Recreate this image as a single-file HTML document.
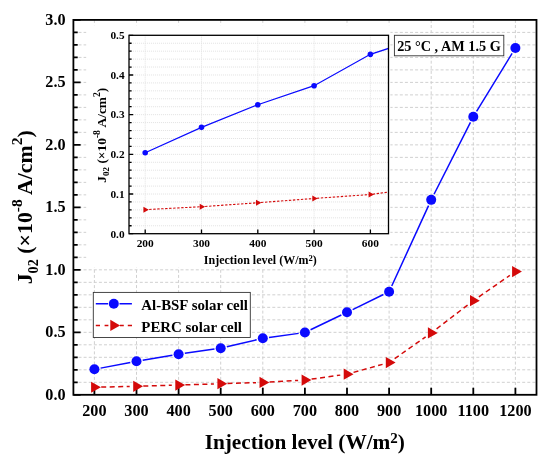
<!DOCTYPE html>
<html lang="en"><head><meta charset="utf-8"><title>J02 vs injection level</title>
<style>html,body{margin:0;padding:0;background:#fff}svg{display:block}</style></head>
<body>
<svg width="550" height="466" viewBox="0 0 550 466" font-family="'Liberation Serif', serif" font-weight="bold" fill="#000">
<rect width="550" height="466" fill="#fff"/>
<g stroke="#d0d0d0" stroke-width="1" stroke-dasharray="3 2.1" fill="none">
<line x1="94.4" y1="19.9" x2="94.4" y2="394.8"/>
<line x1="136.5" y1="19.9" x2="136.5" y2="394.8"/>
<line x1="178.6" y1="19.9" x2="178.6" y2="394.8"/>
<line x1="220.7" y1="19.9" x2="220.7" y2="394.8"/>
<line x1="262.8" y1="19.9" x2="262.8" y2="394.8"/>
<line x1="304.9" y1="19.9" x2="304.9" y2="394.8"/>
<line x1="347" y1="19.9" x2="347" y2="394.8"/>
<line x1="389.1" y1="19.9" x2="389.1" y2="394.8"/>
<line x1="431.2" y1="19.9" x2="431.2" y2="394.8"/>
<line x1="473.3" y1="19.9" x2="473.3" y2="394.8"/>
<line x1="515.4" y1="19.9" x2="515.4" y2="394.8"/>
<line x1="73.4" y1="382.3" x2="536.5" y2="382.3"/>
<line x1="73.4" y1="369.81" x2="536.5" y2="369.81"/>
<line x1="73.4" y1="357.31" x2="536.5" y2="357.31"/>
<line x1="73.4" y1="344.81" x2="536.5" y2="344.81"/>
<line x1="73.4" y1="332.32" x2="536.5" y2="332.32"/>
<line x1="73.4" y1="319.82" x2="536.5" y2="319.82"/>
<line x1="73.4" y1="307.32" x2="536.5" y2="307.32"/>
<line x1="73.4" y1="294.83" x2="536.5" y2="294.83"/>
<line x1="73.4" y1="282.33" x2="536.5" y2="282.33"/>
<line x1="73.4" y1="269.83" x2="536.5" y2="269.83"/>
<line x1="73.4" y1="257.34" x2="536.5" y2="257.34"/>
<line x1="73.4" y1="244.84" x2="536.5" y2="244.84"/>
<line x1="73.4" y1="232.34" x2="536.5" y2="232.34"/>
<line x1="73.4" y1="219.85" x2="536.5" y2="219.85"/>
<line x1="73.4" y1="207.35" x2="536.5" y2="207.35"/>
<line x1="73.4" y1="194.85" x2="536.5" y2="194.85"/>
<line x1="73.4" y1="182.36" x2="536.5" y2="182.36"/>
<line x1="73.4" y1="169.86" x2="536.5" y2="169.86"/>
<line x1="73.4" y1="157.36" x2="536.5" y2="157.36"/>
<line x1="73.4" y1="144.87" x2="536.5" y2="144.87"/>
<line x1="73.4" y1="132.37" x2="536.5" y2="132.37"/>
<line x1="73.4" y1="119.87" x2="536.5" y2="119.87"/>
<line x1="73.4" y1="107.38" x2="536.5" y2="107.38"/>
<line x1="73.4" y1="94.88" x2="536.5" y2="94.88"/>
<line x1="73.4" y1="82.38" x2="536.5" y2="82.38"/>
<line x1="73.4" y1="69.89" x2="536.5" y2="69.89"/>
<line x1="73.4" y1="57.39" x2="536.5" y2="57.39"/>
<line x1="73.4" y1="44.89" x2="536.5" y2="44.89"/>
<line x1="73.4" y1="32.4" x2="536.5" y2="32.4"/>
</g>
<g stroke="#000" stroke-width="1.8" fill="none">
<rect x="73.4" y="19.9" width="463.1" height="374.9"/>
<path d="M94.4 394.8v-7M136.5 394.8v-7M178.6 394.8v-7M220.7 394.8v-7M262.8 394.8v-7M304.9 394.8v-7M347 394.8v-7M389.1 394.8v-7M431.2 394.8v-7M473.3 394.8v-7M515.4 394.8v-7M73.4 394.8h7.2M73.4 382.3h4.3M73.4 369.81h4.3M73.4 357.31h4.3M73.4 344.81h4.3M73.4 332.32h7.2M73.4 319.82h4.3M73.4 307.32h4.3M73.4 294.83h4.3M73.4 282.33h4.3M73.4 269.83h7.2M73.4 257.34h4.3M73.4 244.84h4.3M73.4 232.34h4.3M73.4 219.85h4.3M73.4 207.35h7.2M73.4 194.85h4.3M73.4 182.36h4.3M73.4 169.86h4.3M73.4 157.36h4.3M73.4 144.87h7.2M73.4 132.37h4.3M73.4 119.87h4.3M73.4 107.38h4.3M73.4 94.88h4.3M73.4 82.38h7.2M73.4 69.89h4.3M73.4 57.39h4.3M73.4 44.89h4.3M73.4 32.4h4.3M73.4 19.9h7.2"/>
</g>
<path d="M100.59 368.13L130.31 362.48M142.71 360.26L172.39 355.24M184.84 353.3L214.46 349.08M226.83 346.75L256.67 339.75M269.04 337.45L298.66 333.37M310.58 329.78L341.32 315.05M352.66 309.55L383.44 294.47M391.73 285.98L428.57 205.58M434.05 194.23L470.45 122.37M476.59 111.38L512.11 53.39" stroke="#0a0aff" stroke-width="1.5" fill="none"/>
<path d="M101.2 387.08L129.7 386.45M143.3 386.1L171.8 385.25M185.4 384.83L213.9 383.92M227.5 383.5L256 382.66M269.59 382.07L298.11 380.44M311.63 379.11L340.27 375.12M353.55 372.37L382.55 364.37M394.66 358.65L425.64 336.85M436.6 328.81L467.9 304.83M478.89 296.83L509.81 275.45" stroke="#d40a0a" stroke-width="1.5" stroke-dasharray="5 3.5" fill="none"/>
<g fill="#0a0aff">
<circle cx="94.4" cy="369.31" r="5"/>
<circle cx="136.5" cy="361.31" r="5"/>
<circle cx="178.6" cy="354.19" r="5"/>
<circle cx="220.7" cy="348.19" r="5"/>
<circle cx="262.8" cy="338.32" r="5"/>
<circle cx="304.9" cy="332.5" r="5"/>
<circle cx="347" cy="312.32" r="5"/>
<circle cx="389.1" cy="291.7" r="5"/>
<circle cx="431.2" cy="199.85" r="5"/>
<circle cx="473.3" cy="116.75" r="5"/>
<circle cx="515.4" cy="48.02" r="5"/>
</g>
<path fill="#d40a0a" d="M91.1 381.63L100.9 387.23L91.1 392.83ZM133.2 380.7L143 386.3L133.2 391.9ZM175.3 379.45L185.1 385.05L175.3 390.65ZM217.4 378.1L227.2 383.7L217.4 389.3ZM259.5 376.85L269.3 382.45L259.5 388.05ZM301.6 374.45L311.4 380.05L301.6 385.65ZM343.7 368.58L353.5 374.18L343.7 379.78ZM385.8 356.96L395.6 362.56L385.8 368.16ZM427.9 327.34L437.7 332.94L427.9 338.54ZM470 295.1L479.8 300.7L470 306.3ZM512.1 265.98L521.9 271.58L512.1 277.18Z"/>
<rect x="86.3" y="25.2" width="304.1" height="242.4" fill="#fff"/>
<g stroke="#e4e4e4" stroke-width="1" stroke-dasharray="1.1 0.9" fill="none">
<line x1="145.2" y1="35.3" x2="145.2" y2="233.7"/>
<line x1="201.5" y1="35.3" x2="201.5" y2="233.7"/>
<line x1="257.8" y1="35.3" x2="257.8" y2="233.7"/>
<line x1="314.1" y1="35.3" x2="314.1" y2="233.7"/>
<line x1="370.4" y1="35.3" x2="370.4" y2="233.7"/>
<line x1="129" y1="225.76" x2="388.5" y2="225.76"/>
<line x1="129" y1="217.83" x2="388.5" y2="217.83"/>
<line x1="129" y1="209.89" x2="388.5" y2="209.89"/>
<line x1="129" y1="201.96" x2="388.5" y2="201.96"/>
<line x1="129" y1="194.02" x2="388.5" y2="194.02"/>
<line x1="129" y1="186.08" x2="388.5" y2="186.08"/>
<line x1="129" y1="178.15" x2="388.5" y2="178.15"/>
<line x1="129" y1="170.21" x2="388.5" y2="170.21"/>
<line x1="129" y1="162.28" x2="388.5" y2="162.28"/>
<line x1="129" y1="154.34" x2="388.5" y2="154.34"/>
<line x1="129" y1="146.4" x2="388.5" y2="146.4"/>
<line x1="129" y1="138.47" x2="388.5" y2="138.47"/>
<line x1="129" y1="130.53" x2="388.5" y2="130.53"/>
<line x1="129" y1="122.6" x2="388.5" y2="122.6"/>
<line x1="129" y1="114.66" x2="388.5" y2="114.66"/>
<line x1="129" y1="106.72" x2="388.5" y2="106.72"/>
<line x1="129" y1="98.79" x2="388.5" y2="98.79"/>
<line x1="129" y1="90.85" x2="388.5" y2="90.85"/>
<line x1="129" y1="82.92" x2="388.5" y2="82.92"/>
<line x1="129" y1="74.98" x2="388.5" y2="74.98"/>
<line x1="129" y1="67.04" x2="388.5" y2="67.04"/>
<line x1="129" y1="59.11" x2="388.5" y2="59.11"/>
<line x1="129" y1="51.17" x2="388.5" y2="51.17"/>
<line x1="129" y1="43.24" x2="388.5" y2="43.24"/>
</g>
<clipPath id="ic"><rect x="129" y="35.3" width="259.5" height="198.4"/></clipPath>
<g clip-path="url(#ic)">
<path d="M145.2 152.75L201.5 127.36L257.8 104.74L314.1 85.69L370.4 54.35L426.7 35.9" stroke="#0a0aff" stroke-width="1.2" fill="none"/>
<path d="M145.2 209.65L201.5 206.72L257.8 202.75L314.1 198.46L370.4 194.5L426.7 186.88" stroke="#d40a0a" stroke-width="1.1" stroke-dasharray="2.4 1.6" fill="none"/>
<g fill="#0a0aff">
<circle cx="145.2" cy="152.75" r="2.8"/>
<circle cx="201.5" cy="127.36" r="2.8"/>
<circle cx="257.8" cy="104.74" r="2.8"/>
<circle cx="314.1" cy="85.69" r="2.8"/>
<circle cx="370.4" cy="54.35" r="2.8"/>
</g>
<path fill="#d40a0a" d="M143.4 206.65L148.8 209.65L143.4 212.65ZM199.7 203.72L205.1 206.72L199.7 209.72ZM256 199.75L261.4 202.75L256 205.75ZM312.3 195.46L317.7 198.46L312.3 201.46ZM368.6 191.5L374 194.5L368.6 197.5Z"/>
</g>
<g stroke="#000" stroke-width="1.3" fill="none">
<rect x="129" y="35.3" width="259.5" height="198.4"/>
<path d="M145.2 233.7v-4.2M201.5 233.7v-4.2M257.8 233.7v-4.2M314.1 233.7v-4.2M370.4 233.7v-4.2M129 233.7h4.2M129 225.76h2.6M129 217.83h2.6M129 209.89h2.6M129 201.96h2.6M129 194.02h4.2M129 186.08h2.6M129 178.15h2.6M129 170.21h2.6M129 162.28h2.6M129 154.34h4.2M129 146.4h2.6M129 138.47h2.6M129 130.53h2.6M129 122.6h2.6M129 114.66h4.2M129 106.72h2.6M129 98.79h2.6M129 90.85h2.6M129 82.92h2.6M129 74.98h4.2M129 67.04h2.6M129 59.11h2.6M129 51.17h2.6M129 43.24h2.6M129 35.3h4.2"/>
</g>
<g font-size="11.3" text-anchor="end">
<text x="124.6" y="237.5">0.0</text>
<text x="124.6" y="197.82">0.1</text>
<text x="124.6" y="158.14">0.2</text>
<text x="124.6" y="118.46">0.3</text>
<text x="124.6" y="78.78">0.4</text>
<text x="124.6" y="39.1">0.5</text>
</g>
<g font-size="11.4" text-anchor="middle">
<text x="145.2" y="247.4">200</text>
<text x="201.5" y="247.4">300</text>
<text x="257.8" y="247.4">400</text>
<text x="314.1" y="247.4">500</text>
<text x="370.4" y="247.4">600</text>
</g>
<text x="260.3" y="264.3" font-size="12" text-anchor="middle">Injection level (W/m<tspan dy="-3.8" font-size="8.6">2</tspan><tspan dy="3.8">)</tspan></text>
<text transform="translate(106 135.2) rotate(-90)" font-size="13.4" text-anchor="middle">J<tspan dy="3.4" font-size="9">02</tspan><tspan dy="-3.4"> (×10</tspan><tspan dy="-6" font-size="9.6">-8</tspan><tspan dy="6"> A/cm</tspan><tspan dy="-6" font-size="9.6">2</tspan><tspan dy="6">)</tspan></text>
<g font-size="16.2" text-anchor="end">
<text x="65.6" y="399.6">0.0</text>
<text x="65.6" y="337.12">0.5</text>
<text x="65.6" y="274.63">1.0</text>
<text x="65.6" y="212.15">1.5</text>
<text x="65.6" y="149.67">2.0</text>
<text x="65.6" y="87.18">2.5</text>
<text x="65.6" y="24.7">3.0</text>
</g>
<g font-size="16.2" text-anchor="middle">
<text x="94.4" y="415.6">200</text>
<text x="136.5" y="415.6">300</text>
<text x="178.6" y="415.6">400</text>
<text x="220.7" y="415.6">500</text>
<text x="262.8" y="415.6">600</text>
<text x="304.9" y="415.6">700</text>
<text x="347" y="415.6">800</text>
<text x="389.1" y="415.6">900</text>
<text x="431.2" y="415.6">1000</text>
<text x="473.3" y="415.6">1100</text>
<text x="515.4" y="415.6">1200</text>
</g>
<text x="304.8" y="449.2" font-size="21.3" text-anchor="middle">Injection level (W/m<tspan dy="-6.6" font-size="15">2</tspan><tspan dy="6.6">)</tspan></text>
<text transform="translate(32.2 207.3) rotate(-90)" font-size="21.8" text-anchor="middle">J<tspan dy="5.5" font-size="14.3">02</tspan><tspan dy="-5.5"> (×10</tspan><tspan dy="-10.2" font-size="15.6">-8</tspan><tspan dy="10.2"> A/cm</tspan><tspan dy="-10.2" font-size="15.6">2</tspan><tspan dy="10.2">)</tspan></text>
<rect x="394.4" y="35.3" width="109.4" height="20.5" fill="#fff" stroke="#333" stroke-width="0.9"/>
<text x="397.2" y="50.9" font-size="14.2" textLength="103.6" lengthAdjust="spacingAndGlyphs">25 °C , AM 1.5 G</text>
<rect x="93.3" y="292.4" width="157" height="45.1" fill="#fff" stroke="#333" stroke-width="0.9"/>
<path d="M95.8 303.8H108.1M119.5 303.8H131.9" stroke="#0a0aff" stroke-width="1.5"/><circle cx="113.8" cy="303.8" r="5" fill="#0a0aff"/>
<path d="M95.8 325.4h4.2m4.6 0h3.8m11.6 0h3.8m4 0h4.2" stroke="#d40a0a" stroke-width="1.5"/>
<path d="M110.3 319.8L120.1 325.4L110.3 331Z" fill="#d40a0a"/>
<text x="141.3" y="310.4" font-size="14.9">Al-BSF solar cell</text>
<text x="141.3" y="332.4" font-size="14.9">PERC solar cell</text>
</svg>
</body></html>
